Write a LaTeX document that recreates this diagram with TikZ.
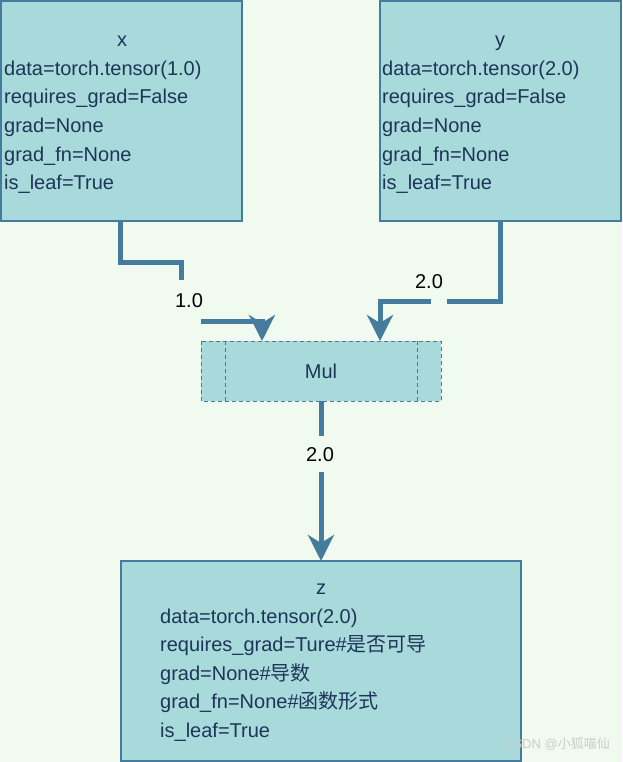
\documentclass[tikz,border=0pt]{standalone}
\usepackage{fontspec}
\setmainfont{Liberation Sans}
\newfontfamily\cjk{Noto Sans CJK SC}
\usetikzlibrary{arrows.meta}
\definecolor{bg}{HTML}{F1FAEE}
\definecolor{fillc}{HTML}{A8DADC}
\definecolor{strk}{HTML}{457B9D}
\definecolor{txt}{HTML}{1D3557}
\begin{document}
\begin{tikzpicture}[x=1pt,y=-1pt,
  box/.style={draw=strk,fill=fillc,line width=1.5pt},
  t/.style={font=\fontsize{20}{24}\selectfont,text=txt,inner sep=0pt},
  tl/.style={t,anchor=base west},
  lab/.style={font=\fontsize{20}{24}\selectfont,text=black,inner sep=0pt},
  conn/.style={draw=strk,line width=5pt},
  arr/.style={conn,-{Stealth[length=26pt,width=26pt,inset=8pt]}}]
\fill[bg] (0,0) rectangle (622,762);
\useasboundingbox (0,0) rectangle (622,762);
% x box
\draw[box] (1,1) rectangle (242,221);
\node[t,anchor=base] (xt) at (122,47) {x};
\foreach \s [count=\i] in {data=torch.tensor(1.0),requires\_grad=False,grad=None,grad\_fn=None,is\_leaf=True}
  \node[tl] (xl\i) at (4,47+28.5*\i) {\s};
% y box
\draw[box] (380,1) rectangle (621,221);
\node[t,anchor=base] (yt) at (500,47) {y};
\foreach \s [count=\i] in {data=torch.tensor(2.0),requires\_grad=False,grad=None,grad\_fn=None,is\_leaf=True}
  \node[tl] (yl\i) at (382,47+28.5*\i) {\s};
% Mul
\draw[draw=strk,fill=fillc,line width=1pt,dash pattern=on 4pt off 3pt] (201,341) rectangle (441,401);
\draw[draw=strk,line width=1pt,dash pattern=on 4pt off 3pt] (225,341) -- (225,401) (417,341) -- (417,401);
\node[t] (mul) at (321,371) {Mul};
% z box
\draw[box] (121,561) rectangle (521,761);
\node[t,anchor=base] (zt) at (321,594) {z};
\node[tl] (zl1) at (160,623) {data=torch.tensor(2.0)};
\node[tl] (zl2) at (160,651.5) {requires\_grad=Ture\#{\cjk 是否可导}};
\node[tl] (zl3) at (160,680) {grad=None\#{\cjk 导数}};
\node[tl] (zl4) at (160,708.5) {grad\_fn=None\#{\cjk 函数形式}};
\node[tl] (zl5) at (160,737) {is\_leaf=True};
% connectors
\coordinate (a1) at (120,221);
\coordinate (a2) at (181,280);
\coordinate (a3) at (201,321);
\coordinate (a4) at (262,341);
\draw[conn] (a1) -- (120,262) -- (181,262) -- (a2);
\draw[arr] (a3) -- (262,321) -- (a4);
\node[lab] (l1) at (189,301) {1.0};
\coordinate (b1) at (500,221);
\coordinate (b2) at (447,301);
\coordinate (b3) at (431,301);
\coordinate (b4) at (380,341);
\draw[conn] (b1) -- (500,301) -- (b2);
\draw[arr] (b3) -- (380,301) -- (b4);
\node[lab] (l2) at (429,282) {2.0};
\coordinate (c1) at (321,401);
\coordinate (c2) at (321,436);
\coordinate (c3) at (321,472);
\coordinate (c4) at (321,561);
\draw[conn] (c1) -- (c2);
\draw[arr] (c3) -- (c4);
\node[lab] (l3) at (320,455) {2.0};
\node[font=\fontsize{13}{15}\selectfont,text=white!60!gray,anchor=east,inner sep=0pt] (wm) at (610,744) {CSDN @{\cjk 小狐喵仙}};
\end{tikzpicture}
\end{document}
